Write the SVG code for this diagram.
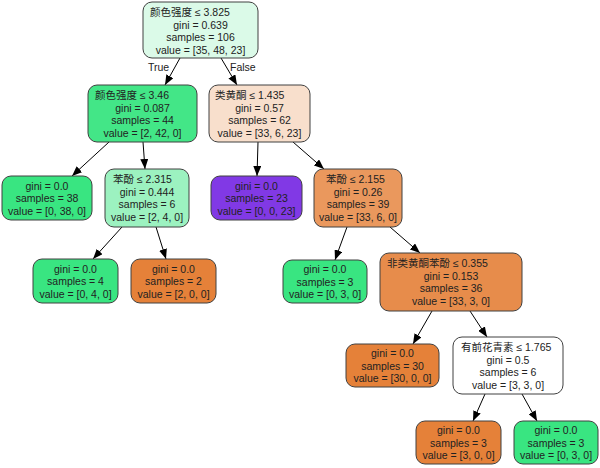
<svg xmlns="http://www.w3.org/2000/svg" width="600" height="468" viewBox="0 0 600 468">
<defs>
<style>
.n rect{stroke:#404040;stroke-width:1}
text{font-family:"Liberation Sans","Noto Sans CJK SC",sans-serif;font-size:10.5px;fill:#222}
.c{text-anchor:middle}
.e line{stroke:#000;stroke-width:1;marker-end:url(#ah)}
</style>
<marker id="ah" markerUnits="userSpaceOnUse" markerWidth="10" markerHeight="8" refX="10" refY="4" orient="auto">
<path d="M0,0 L10,4 L0,8 z" fill="#000"/>
</marker>
</defs>
<rect width="600" height="468" fill="#fff"/>
<g id="edges" class="e">
<line x1="180" y1="58" x2="165" y2="85"/>
<line x1="221" y1="58" x2="237" y2="85"/>
<line x1="109" y1="142" x2="72" y2="176"/>
<line x1="143" y1="142" x2="145" y2="169"/>
<line x1="258" y1="142" x2="257" y2="176"/>
<line x1="293" y1="142" x2="324" y2="169"/>
<line x1="122" y1="227" x2="93" y2="259"/>
<line x1="156" y1="227" x2="166" y2="259"/>
<line x1="347" y1="227" x2="335" y2="260"/>
<line x1="390" y1="227" x2="420" y2="253"/>
<line x1="432" y1="311" x2="413" y2="344"/>
<line x1="470" y1="311" x2="487" y2="337"/>
<line x1="485" y1="394" x2="473" y2="421"/>
<line x1="522" y1="394" x2="537" y2="421"/>
<text x="148" y="71">True</text>
<text x="230" y="71">False</text>
</g>
<g id="n0" class="n"><rect x="143" y="2" width="115" height="56" rx="9" fill="#dbfae8"/>
<text x="150" y="16">颜色强度 ≤ 3.825</text>
<text class="c" x="200.5" y="28.5">gini = 0.639</text>
<text class="c" x="200.5" y="41">samples = 106</text>
<text class="c" x="200.5" y="53.5">value = [35, 48, 23]</text></g>
<g id="n1" class="n"><rect x="88" y="85" width="109" height="57" rx="9" fill="#43e687"/>
<text x="95" y="99">颜色强度 ≤ 3.46</text>
<text class="c" x="142.5" y="111.5">gini = 0.087</text>
<text class="c" x="142.5" y="124">samples = 44</text>
<text class="c" x="142.5" y="136.5">value = [2, 42, 0]</text></g>
<g id="n2" class="n"><rect x="209" y="85" width="101" height="57" rx="9" fill="#f8dfcc"/>
<text x="215" y="99">类黄酮 ≤ 1.435</text>
<text class="c" x="259.5" y="111.5">gini = 0.57</text>
<text class="c" x="259.5" y="124">samples = 62</text>
<text class="c" x="259.5" y="136.5">value = [33, 6, 23]</text></g>
<g id="n3" class="n"><rect x="2" y="176" width="90" height="44" rx="9" fill="#39e581"/>
<text class="c" x="47" y="189.5">gini = 0.0</text>
<text class="c" x="47" y="202">samples = 38</text>
<text class="c" x="47" y="214.5">value = [0, 38, 0]</text></g>
<g id="n4" class="n"><rect x="105" y="169" width="84" height="58" rx="9" fill="#9cf2c0"/>
<text x="113" y="183">苯酚 ≤ 2.315</text>
<text class="c" x="147" y="195.5">gini = 0.444</text>
<text class="c" x="147" y="208">samples = 6</text>
<text class="c" x="147" y="220.5">value = [2, 4, 0]</text></g>
<g id="n5" class="n"><rect x="211" y="176" width="91" height="44" rx="9" fill="#8139e5"/>
<text class="c" x="256.5" y="189.5">gini = 0.0</text>
<text class="c" x="256.5" y="202">samples = 23</text>
<text class="c" x="256.5" y="214.5">value = [0, 0, 23]</text></g>
<g id="n6" class="n"><rect x="314" y="169" width="88" height="58" rx="9" fill="#ea985d"/>
<text x="326" y="183">苯酚 ≤ 2.155</text>
<text class="c" x="358" y="195.5">gini = 0.26</text>
<text class="c" x="358" y="208">samples = 39</text>
<text class="c" x="358" y="220.5">value = [33, 6, 0]</text></g>
<g id="n7" class="n"><rect x="33" y="259" width="85" height="44" rx="9" fill="#39e581"/>
<text class="c" x="75.5" y="272.5">gini = 0.0</text>
<text class="c" x="75.5" y="285">samples = 4</text>
<text class="c" x="75.5" y="297.5">value = [0, 4, 0]</text></g>
<g id="n8" class="n"><rect x="131" y="259" width="85" height="44" rx="9" fill="#e58139"/>
<text class="c" x="173.5" y="272.5">gini = 0.0</text>
<text class="c" x="173.5" y="285">samples = 2</text>
<text class="c" x="173.5" y="297.5">value = [2, 0, 0]</text></g>
<g id="n9" class="n"><rect x="283" y="260" width="84" height="43" rx="9" fill="#39e581"/>
<text class="c" x="325" y="273">gini = 0.0</text>
<text class="c" x="325" y="285.5">samples = 3</text>
<text class="c" x="325" y="298">value = [0, 3, 0]</text></g>
<g id="n10" class="n"><rect x="380" y="253" width="142" height="58" rx="9" fill="#e78c4b"/>
<text x="387" y="267">非类黄酮苯酚 ≤ 0.355</text>
<text class="c" x="451" y="279.5">gini = 0.153</text>
<text class="c" x="451" y="292">samples = 36</text>
<text class="c" x="451" y="304.5">value = [33, 3, 0]</text></g>
<g id="n11" class="n"><rect x="346" y="344" width="93" height="43" rx="9" fill="#e58139"/>
<text class="c" x="392.5" y="357">gini = 0.0</text>
<text class="c" x="392.5" y="369.5">samples = 30</text>
<text class="c" x="392.5" y="382">value = [30, 0, 0]</text></g>
<g id="n12" class="n"><rect x="453" y="337" width="110" height="57" rx="9" fill="#ffffff"/>
<text x="461" y="351">有前花青素 ≤ 1.765</text>
<text class="c" x="508" y="363.5">gini = 0.5</text>
<text class="c" x="508" y="376">samples = 6</text>
<text class="c" x="508" y="388.5">value = [3, 3, 0]</text></g>
<g id="n13" class="n"><rect x="416" y="421" width="85" height="43" rx="9" fill="#e58139"/>
<text class="c" x="458.5" y="434">gini = 0.0</text>
<text class="c" x="458.5" y="446.5">samples = 3</text>
<text class="c" x="458.5" y="459">value = [3, 0, 0]</text></g>
<g id="n14" class="n"><rect x="514" y="421" width="84" height="43" rx="9" fill="#39e581"/>
<text class="c" x="556" y="434">gini = 0.0</text>
<text class="c" x="556" y="446.5">samples = 3</text>
<text class="c" x="556" y="459">value = [0, 3, 0]</text></g>
</svg>
